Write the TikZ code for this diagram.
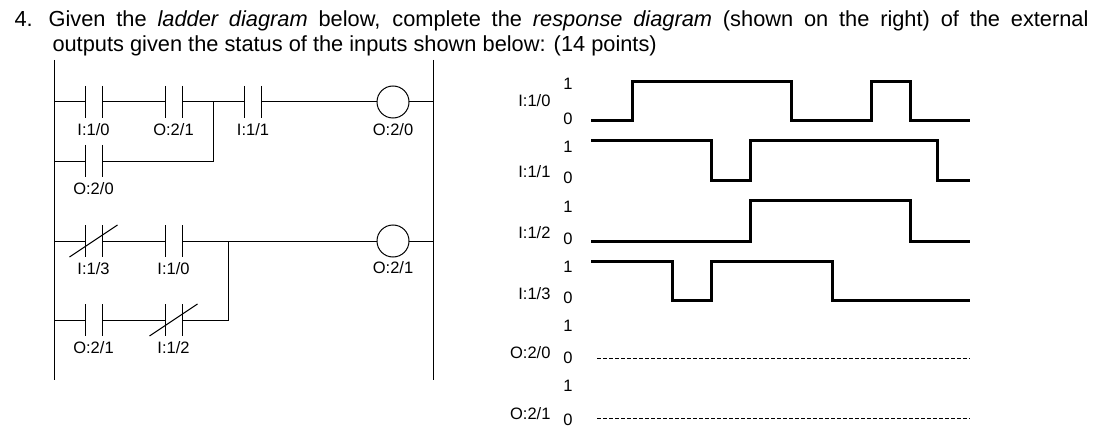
\documentclass[tikz,border=0pt]{standalone}
\usepackage{fontspec}
\setmainfont{Liberation Sans}
\begin{document}
\begin{tikzpicture}[x=1pt,y=-1pt,line width=1pt,
  lbl/.style={font=\fontsize{16.5}{18}\selectfont,inner sep=0pt},
  wave/.style={line width=3pt,line join=miter},
  dashline/.style={dash pattern=on 4pt off 2pt,line width=0.8pt}]
\useasboundingbox (0,0) rectangle (1100,441);
% title
\node[anchor=north west,inner sep=0pt,font=\fontsize{21.8}{24}\selectfont] (t1) at (14,10)
{\hbox to 1074pt{4.\hspace{16pt}Given the \textit{ladder diagram} below, complete the \textit{response diagram} (shown on the right) of the external}};
\node[anchor=north west,inner sep=0pt,font=\fontsize{21.8}{24}\selectfont] (t2) at (52,35)
{outputs given the status of the inputs shown below: (14 points)};
% rails
\coordinate (lt) at (54,60); \coordinate (lb) at (54,380);
\coordinate (rt) at (433,60); \coordinate (rb) at (433,380);
\draw (lt) -- (lb); \draw (rt) -- (rb);
% contact macro
\newcommand{\ctc}[4]{% x,y,label,nc
  \draw (#1-8.5,#2-16) -- (#1-8.5,#2+16);
  \draw (#1+8.5,#2-16) -- (#1+8.5,#2+16);
  \ifnum#4=1 \draw (#1-24,#2+16) -- (#1+24,#2-16);\fi
  \node[lbl] at (#1,#2+28) {#3};}
% rung 1
\draw (54,102) -- (85,102) (102,102) -- (165,102) (182,102) -- (245,102) (261,102) -- (377,102) (409,102) -- (433,102);
\ctc{93.5}{102}{I:1/0}{0}
\ctc{173.5}{102}{O:2/1}{0}
\ctc{253}{102}{I:1/1}{0}
\node[draw,circle,minimum size=32pt,inner sep=0pt] (c1) at (393,102) {};
\node[lbl] at (393,130) {O:2/0};
\draw (54,161) -- (85,161) (102,161) -- (213,161) -- (213,102);
\ctc{93.5}{161}{O:2/0}{0}
% rung 3
\draw (54,241) -- (85,241) (102,241) -- (165,241) (182,241) -- (377,241) (409,241) -- (433,241);
\ctc{93.5}{241}{I:1/3}{1}
\ctc{173.5}{241}{I:1/0}{0}
\node[draw,circle,minimum size=32pt,inner sep=0pt] (c2) at (393,241) {};
\node[lbl] at (393,268) {O:2/1};
\draw (54,320) -- (85,320) (102,320) -- (165,320) (182,320) -- (228,320) -- (228,241);
\ctc{93.5}{320}{O:2/1}{0}
\ctc{173.5}{320}{I:1/2}{1}
% waveforms
\foreach \n/\y in {{I:1/0}/101, {I:1/1}/172, {I:1/2}/233, {I:1/3}/294, {O:2/0}/353, {O:2/1}/414}
  \node[lbl,anchor=east] at (551,\y) {\n};
\foreach \hi/\lo in {84/119, 147/178, 207/239, 267/298, 326/358, 386/420}{
  \node[lbl] at (568,\hi) {1}; \node[lbl] at (568,\lo) {0};}
\draw[wave] (591,121) -- (632,121) -- (632,82) -- (791,82) -- (791,121) -- (871,121) -- (871,82) -- (910,82) -- (910,121) -- (970,121);
\draw[wave] (591,141) -- (711,141) -- (711,180) -- (750,180) -- (750,141) -- (937,141) -- (937,180) -- (970,180);
\draw[wave] (591,241) -- (750,241) -- (750,200) -- (910,200) -- (910,241) -- (970,241);
\draw[wave] (591,261) -- (672,261) -- (672,300) -- (711,300) -- (711,261) -- (832,261) -- (832,300) -- (970,300);
\draw[dashline] (597,358) -- (970,358);
\draw[dashline] (597,418) -- (970,418);
\end{tikzpicture}
\end{document}
